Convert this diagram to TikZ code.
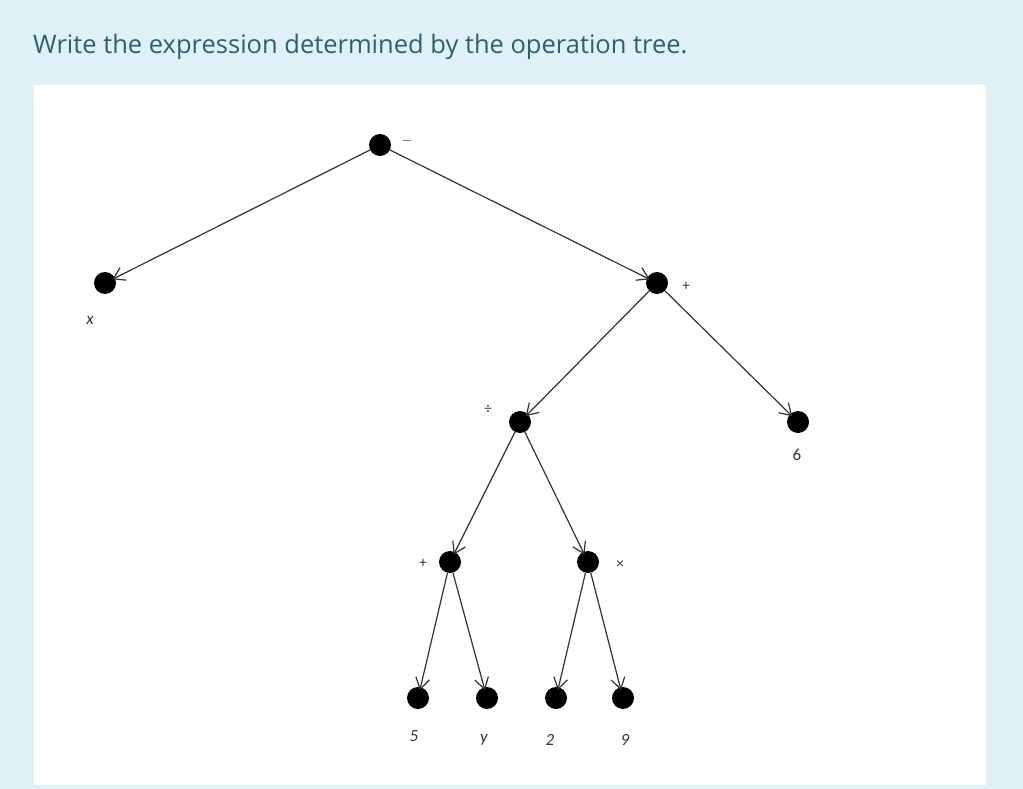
\documentclass[tikz,border=0pt]{standalone}
\usepackage{fontspec}
\setmainfont{Carlito}
\newfontfamily\titlefont{Open Sans}
\usetikzlibrary{arrows.meta}
\definecolor{bgblue}{HTML}{DFF1F7}
\definecolor{titlecol}{HTML}{2F5F6E}
\tikzset{
  dot/.style={circle,fill=black,inner sep=0pt,minimum size=22pt},
  edge/.style={draw=black!80,line width=1.2pt,-{Straight Barb[length=11pt,width=14pt,line width=1.2pt]},shorten >=-3pt},
  lab/.style={font=\fontsize{17}{17}\selectfont\itshape,text=black!80},
  op/.style={font=\fontsize{15}{15}\selectfont,text=black!80}
}
\begin{document}
\begin{tikzpicture}[x=1pt,y=-1pt]
\fill[bgblue] (0,0) rectangle (1023,789);
\useasboundingbox (0,0) rectangle (1023,789);
\fill[white] (34,85) rectangle (986,785);
\node[anchor=west,text=titlecol,font=\titlefont\fontsize{25.5}{26}\selectfont,inner sep=0pt] (title) at (33,47) {Write the expression determined by the operation tree.};
\node[dot] (r) at (380,145) {};
\node[dot] (x) at (105,283) {};
\node[dot] (p) at (657,283) {};
\node[dot] (d) at (520,422) {};
\node[dot] (six) at (798,422) {};
\node[dot] (p2) at (450,562) {};
\node[dot] (m) at (588,562) {};
\node[dot] (five) at (418,698) {};
\node[dot] (y) at (487,698) {};
\node[dot] (two) at (556,698) {};
\node[dot] (nine) at (623,698) {};
\foreach \a/\b in {r/x,r/p,p/d,p/six,d/p2,d/m,p2/five,p2/y,m/two,m/nine}
  \draw[edge] (\a) -- (\b);
\node[op] (lr) at (407,141) {$-$};
\node[op] (lp) at (686,286) {+};
\node[op] (ld) at (488,409) {÷};
\node[op] (lp2) at (423,563) {+};
\node[op] (lm) at (620,565) {×};
\node[lab] (lx) at (90,320) {x};
\node[lab,font=\fontsize{17}{17}\selectfont] (l6) at (797,455) {6};
\node[lab] (l5) at (414,736) {5};
\node[lab] (ly) at (484,740) {y};
\node[lab] (l2) at (550,740) {2};
\node[lab] (l9) at (625,740) {9};
\end{tikzpicture}
\end{document}
